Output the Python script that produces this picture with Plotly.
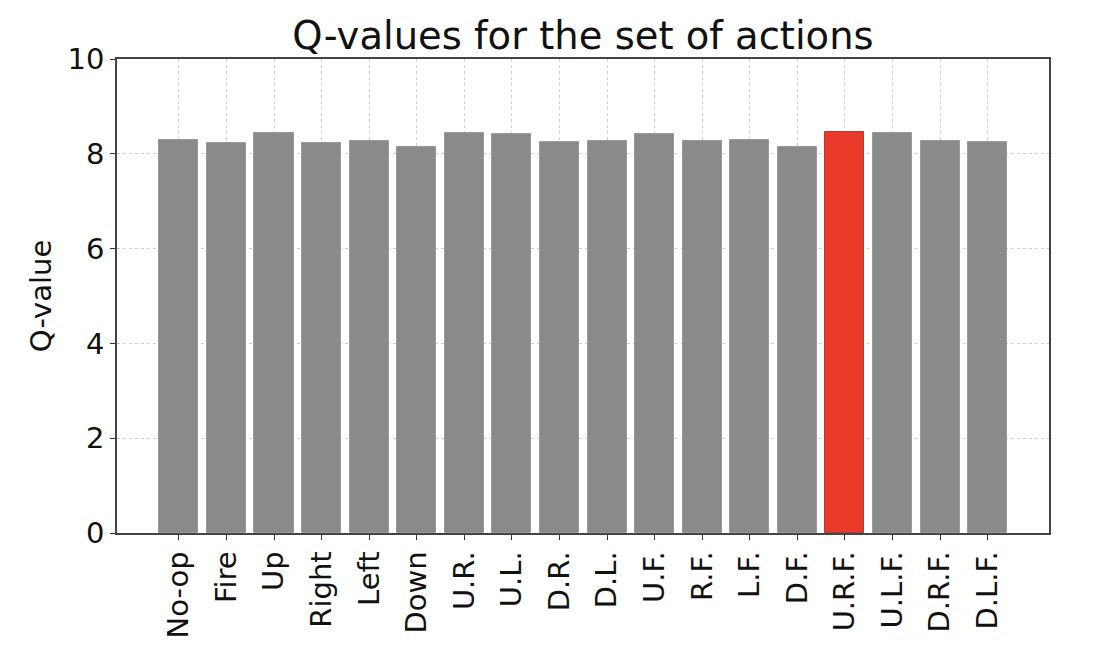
import plotly.graph_objects as go

actions = ["No-op", "Fire", "Up", "Right", "Left", "Down", "U.R.", "U.L.", "D.R.",
           "D.L.", "U.F.", "R.F.", "L.F.", "D.F.", "U.R.F.", "U.L.F.", "D.R.F.", "D.L.F."]
q_values = [8.29, 8.22, 8.44, 8.22, 8.27, 8.15, 8.44, 8.42, 8.25,
            8.27, 8.42, 8.27, 8.29, 8.15, 8.47, 8.44, 8.27, 8.245]
best_index = 14
y_ticks = [0, 2, 4, 6, 8, 10]

gray = "#8a8a8a"
red = "#e8392a"
colors = [red if i == best_index else gray for i in range(len(actions))]
edges = ["#b83a2a" if i == best_index else "#9a9a9a" for i in range(len(actions))]

fig = go.Figure()
fig.add_trace(go.Bar(
    x=list(range(len(actions))),
    y=q_values,
    width=0.82,
    marker=dict(color=colors, line=dict(color=edges, width=1)),
    showlegend=False,
))

font_family = "DejaVu Sans"
fig.update_layout(
    width=1098, height=654,
    margin=dict(l=109, r=57, t=51, b=129),
    paper_bgcolor="white", plot_bgcolor="white",
    font=dict(family=font_family, color="black"),
    title=dict(text="Q-values for the set of actions", x=(583 - 8) / 1098, xanchor="center",
               y=1 - 28 / 654, yanchor="middle", font=dict(size=38.5, color="#111")),
    xaxis=dict(
        range=[-1.30, 18.29],
        tickmode="array", tickvals=list(range(len(actions))), ticktext=actions,
        tickangle=-90, tickfont=dict(size=29, color="#111"),
        ticks="outside", ticklen=5, tickcolor="#333",
        showgrid=True, gridcolor="#d0d0d0", griddash="dot", gridwidth=1,
        showline=True, linecolor="#444", linewidth=1.5, mirror=True,
        zeroline=False,
    ),
    yaxis=dict(
        range=[0, 10],
        tickmode="array", tickvals=y_ticks, ticktext=[str(v) for v in y_ticks],
        tickfont=dict(size=29, color="#111"),
        ticks="outside", ticklen=5, tickcolor="#333",
        showgrid=True, gridcolor="#d0d0d0", griddash="dot", gridwidth=1,
        showline=True, linecolor="#444", linewidth=1.5, mirror=True,
        zeroline=False,
        title=dict(text="Q-value", font=dict(size=29, color="#111"), standoff=7),
    ),
    bargap=0,
)

fig.write_html("out.html")
